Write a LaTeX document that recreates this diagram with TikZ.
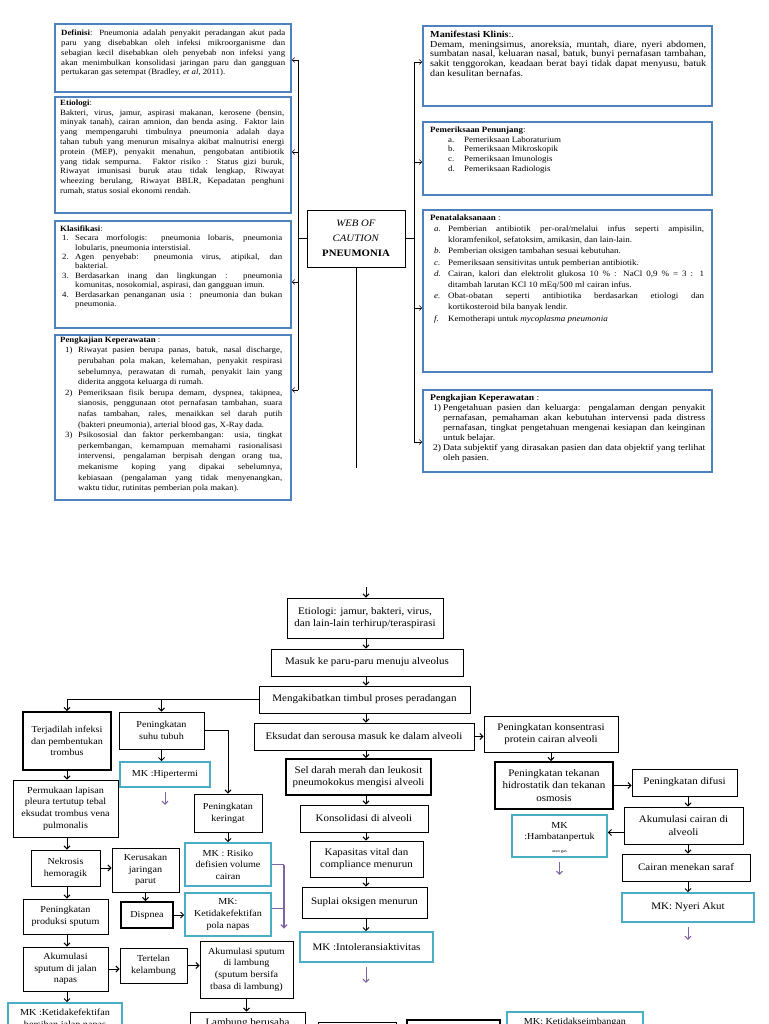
\documentclass[tikz,border=0pt]{standalone}
\usepackage{fontspec}
\setmainfont[FakeStretch=1.1]{Liberation Serif}
\usetikzlibrary{arrows.meta}
\definecolor{tbl}{RGB}{79,129,189}
\definecolor{cyn}{RGB}{75,172,198}
\definecolor{pur}{RGB}{128,100,162}
\newcommand\JL[2][0pt]{\hbox to\hsize{\hskip#1\relax#2}}
\newcommand\NL[2][0pt]{\hbox{\hskip#1\relax#2}}
\newcommand\bx[7]{\node[#2,minimum width={(#5-#3)*1pt},minimum height={(#6-#4)*1pt}] (#1) at ({(#3+#5)/2},{(#4+#6)/2}) {#7};}
\newcommand\fsA{\fontsize{10}{12.4}\selectfont}
\newcommand\fsB{\fontsize{9.2}{11.6}\selectfont}
\tikzset{
 fb/.style={draw=black, line width=0.9pt, align=center, inner sep=1pt},
 fbt/.style={fb, line width=1.8pt},
 mk/.style={draw=cyn, line width=1.6pt, align=center, inner sep=1pt},
 topbox/.style={draw=tbl, line width=1.6pt, inner sep=0pt},
 txt/.style={anchor=north west, inner sep=0pt},
 arr/.style={-{Straight Barb[length=3pt,width=6pt]}, line width=1pt},
 parr/.style={arr, draw=pur},
 warr/.style={-{Straight Barb[length=2.5pt,width=5pt]}, line width=0.6pt},
 wl/.style={line width=0.6pt},
 A/.style={font=\fsA}, B/.style={font=\fsB}
}
\begin{document}
\begin{tikzpicture}[x=1pt,y=-1pt]
\useasboundingbox (0,0) rectangle (768,1024);
\clip (0,0) rectangle (768,1024);
\fill[white] (0,0) rectangle (768,1024);

% ---------- top: web of caution ----------
\bx{def}{topbox}{55}{24}{291}{92}{}
\bx{eti}{topbox}{55}{97}{291}{213}{}
\bx{kla}{topbox}{55}{221}{291}{328}{}
\bx{pk}{topbox}{55}{335}{291}{500}{}
\bx{man}{topbox}{423}{26}{712}{106}{}
\bx{pen}{topbox}{423}{122}{712}{195}{}
\bx{pena}{topbox}{423}{210}{712}{372}{}
\bx{pkr}{topbox}{423}{390}{712}{472}{}

\node[txt] (deft) at (61,29.5) {\parbox{224pt}{\fontsize{8}{9.9}\selectfont
\JL{\textbf{Definisi}: Pneumonia adalah penyakit peradangan akut pada}
\JL{paru yang disebabkan oleh infeksi mikroorganisme dan}
\JL{sebagian kecil disebabkan oleh penyebab non infeksi yang}
\JL{akan menimbulkan konsolidasi jaringan paru dan gangguan}
\NL{pertukaran gas setempat (Bradley, \textit{et al}, 2011).}}};

\node[txt] (etit) at (60,99.5) {\parbox{224pt}{\fontsize{8}{9.8}\selectfont
\NL{\textbf{Etiologi}:}
\JL{Bakteri, virus, jamur, aspirasi makanan, kerosene (bensin,}
\JL{minyak tanah), cairan amnion, dan benda asing. Faktor lain}
\JL{yang mempengaruhi timbulnya pneumonia adalah daya}
\JL{tahan tubuh yang menurun misalnya akibat malnutrisi energi}
\JL{protein (MEP), penyakit menahun, pengobatan antibiotik}
\JL{yang tidak sempurna. Faktor risiko : Status gizi buruk,}
\JL{Riwayat imunisasi buruk atau tidak lengkap, Riwayat}
\JL{wheezing berulang, Riwayat BBLR, Kepadatan penghuni}
\NL{rumah, status sosial ekonomi rendah.}}};

\node[txt] (klat) at (60,225.5) {\parbox{222pt}{\fontsize{8}{9.4}\selectfont
\NL{\textbf{Klasifikasi}:}
\JL[2pt]{\makebox[13pt][l]{1.}Secara morfologis: pneumonia lobaris, pneumonia}
\NL[15pt]{lobularis, pneumonia interstisial.}
\JL[2pt]{\makebox[13pt][l]{2.}Agen penyebab: pneumonia virus, atipikal, dan}
\NL[15pt]{bakterial.}
\JL[2pt]{\makebox[13pt][l]{3.}Berdasarkan inang dan lingkungan : pneumonia}
\NL[15pt]{komunitas, nosokomial, aspirasi, dan gangguan imun.}
\JL[2pt]{\makebox[13pt][l]{4.}Berdasarkan penanganan usia : pneumonia dan bukan}
\NL[15pt]{pneumonia.}}};

\node[txt] (pkt) at (60,336.5) {\parbox{222pt}{\fontsize{8}{10.6}\selectfont
\NL{\textbf{Pengkajian Keperawatan} :}
\JL[5pt]{\makebox[13pt][l]{1)}Riwayat pasien berupa panas, batuk, nasal discharge,}
\JL[18pt]{perubahan pola makan, kelemahan, penyakit respirasi}
\JL[18pt]{sebelumnya, perawatan di rumah, penyakit lain yang}
\NL[18pt]{diderita anggota keluarga di rumah.}
\JL[5pt]{\makebox[13pt][l]{2)}Pemeriksaan fisik berupa demam, dyspnea, takipnea,}
\JL[18pt]{sianosis, penggunaan otot pernafasan tambahan, suara}
\JL[18pt]{nafas tambahan, rales, menaikkan sel darah putih}
\NL[18pt]{(bakteri pneumonia), arterial blood gas, X-Ray dada.}
\JL[5pt]{\makebox[13pt][l]{3)}Psikososial dan faktor perkembangan: usia, tingkat}
\JL[18pt]{perkembangan, kemampuan memahami rasionalisasi}
\JL[18pt]{intervensi, pengalaman berpisah dengan orang tua,}
\JL[18pt]{mekanisme koping yang dipakai sebelumnya,}
\JL[18pt]{kebiasaan (pengalaman yang tidak menyenangkan,}
\NL[18pt]{waktu tidur, rutinitas pemberian pola makan).}}};

\node[txt] (mant) at (430,31) {\parbox{276pt}{\fontsize{9.2}{9.6}\selectfont
\NL{\textbf{Manifestasi Klinis}:.}
\JL{Demam, meningsimus, anoreksia, muntah, diare, nyeri abdomen,}
\JL{sumbatan nasal, keluaran nasal, batuk, bunyi pernafasan tambahan,}
\JL{sakit tenggorokan, keadaan berat bayi tidak dapat menyusu, batuk}
\NL{dan kesulitan bernafas.}}};

\node[txt] (pent) at (430,126.5) {\parbox{276pt}{\fontsize{8.1}{9.8}\selectfont
\NL{\textbf{Pemeriksaan Penunjang}:}
\NL[18pt]{\makebox[16pt][l]{a.}Pemeriksaan Laboraturium}
\NL[18pt]{\makebox[16pt][l]{b.}Pemeriksaan Mikroskopik}
\NL[18pt]{\makebox[16pt][l]{c.}Pemeriksaan Imunologis}
\NL[18pt]{\makebox[16pt][l]{d.}Pemeriksaan Radiologis}}};

\node[txt] (penat) at (430,214.5) {\parbox{274pt}{\fontsize{8.2}{11.2}\selectfont
\NL{\textbf{Penatalaksanaan} :}
\JL[4pt]{\makebox[14pt][l]{\textit{a.}}Pemberian antibiotik per-oral/melalui infus seperti ampisilin,}
\NL[18pt]{kloramfenikol, sefatoksim, amikasin, dan lain-lain.}
\NL[4pt]{\makebox[14pt][l]{\textit{b.}}Pemberian oksigen tambahan sesuai kebutuhan.}
\NL[4pt]{\makebox[14pt][l]{\textit{c.}}Pemeriksaan sensitivitas untuk pemberian antibiotik.}
\JL[4pt]{\makebox[14pt][l]{\textit{d.}}Cairan, kalori dan elektrolit glukosa 10 \% : NaCl 0,9 \% = 3 : 1}
\NL[18pt]{ditambah larutan KCl 10 mEq/500 ml cairan infus.}
\JL[4pt]{\makebox[14pt][l]{\textit{e.}}Obat-obatan seperti antibiotika berdasarkan etiologi dan}
\NL[18pt]{kortikosteroid bila banyak lendir.}
\NL[4pt]{\makebox[14pt][l]{\textit{f.}}Kemotherapi untuk \textit{mycoplasma pneumonia}}}};

\node[txt] (pkrt) at (430,394) {\parbox{275pt}{\fontsize{8.7}{10}\selectfont
\NL{\textbf{Pengkajian Keperawatan} :}
\JL[3pt]{\makebox[10pt][l]{1)}Pengetahuan pasien dan keluarga: pengalaman dengan penyakit}
\JL[13pt]{pernafasan, pemahaman akan kebutuhan intervensi pada distress}
\JL[13pt]{pernafasan, tingkat pengetahuan mengenai kesiapan dan keinginan}
\NL[13pt]{untuk belajar.}
\JL[3pt]{\makebox[10pt][l]{2)}Data subjektif yang dirasakan pasien dan data objektif yang terlihat}
\NL[13pt]{oleh pasien.}}};

\bx{web}{fb, line width=0.6pt, font=\fontsize{9.8}{15}\selectfont}{307}{210}{405}{267}{\textit{WEB OF}\\\textit{CAUTION}\\\textbf{PNEUMONIA}}

\coordinate (la1) at (298,60);
\coordinate (la2) at (298,152);
\coordinate (la3) at (298,282);
\coordinate (la4) at (298,390);
\coordinate (ra1) at (414,62);
\coordinate (ra2) at (414,162);
\coordinate (ra3) at (414,308);
\coordinate (ra4) at (414,442);
\coordinate (cdown) at (356,468);
\draw[wl] (la1) -- (la4);
\draw[wl] (ra1) -- (ra4);
\draw[wl] (web.west) -- (web.west -| la1);
\draw[wl] (web.east) -- (web.east -| ra1);
\draw[wl] (web.south) -- (web.south |- cdown);
\draw[warr] (la1) -- (la1 -| def.east);
\draw[warr] (la2) -- (la2 -| eti.east);
\draw[warr] (la3) -- (la3 -| kla.east);
\draw[warr] (la4) -- (la4 -| pk.east);
\draw[warr] (ra1) -- (ra1 -| man.west);
\draw[warr] (ra2) -- (ra2 -| pen.west);
\draw[warr] (ra3) -- (ra3 -| pena.west);
\draw[warr] (ra4) -- (ra4 -| pkr.west);

% ---------- bottom: flow chart ----------
\bx{etio}{fb,A}{287}{598}{443}{638}{Etiologi: jamur, bakteri, virus,\\dan lain-lain terhirup/teraspirasi}
\bx{masuk}{fb,A}{271}{649}{463}{676}{Masuk ke paru-paru menuju alveolus}
\bx{meng}{fb,A}{259}{686}{470}{713}{Mengakibatkan timbul proses peradangan}
\bx{eksu}{fb,A}{254}{723}{474}{750}{Eksudat dan serousa masuk ke dalam alveoli}
\bx{sel}{fbt,A}{286}{759}{431}{795}{Sel darah merah dan leukosit\\pneumokokus mengisi alveoli}
\bx{kons}{fb,A}{300}{805}{428}{832}{Konsolidasi di alveoli}
\bx{kapa}{fb,A}{310}{841}{423}{877}{Kapasitas vital dan\\compliance menurun}
\bx{supl}{fb,A}{302}{887}{427}{918}{Suplai oksigen menurun}
\bx{mkint}{mk,A}{300}{932}{433}{962}{MK :Intoleransiaktivitas}

\bx{konsen}{fb,A}{484}{716}{618}{752}{Peningkatan konsentrasi\\protein cairan alveoli}
\bx{tekan}{fbt,A}{495}{762}{613}{809}{Peningkatan tekanan\\hidrostatik dan tekanan\\osmosis}
\bx{difu}{fb,A}{632}{769}{737}{796}{Peningkatan difusi}
\bx{akcair}{fb,A}{624}{807}{743}{844}{Akumulasi cairan di\\alveoli}
\bx{mkhamb}{mk}{512}{815}{607}{857}{}
\node[B, align=center, inner sep=0pt] (hambt) at (559.5,832) {MK\\:Hambatanpertuk};
\node[font=\fontsize{4}{4}\selectfont, inner sep=0pt] (hambt2) at (559.5,852) {aran gas};
\bx{cairan}{fb,A}{622}{854}{750}{881}{Cairan menekan saraf}
\bx{mknyeri}{mk,A}{622}{893}{754}{922}{MK: Nyeri Akut}

\bx{terj}{fbt,B}{23}{712}{111}{770}{Terjadilah infeksi\\dan pembentukan\\trombus}
\bx{suhu}{fb,B}{119}{712}{204}{749}{Peningkatan\\suhu tubuh}
\bx{mkhip}{mk,B}{120}{762}{210}{787}{MK :Hipertermi}
\bx{kering}{fb,B}{194}{794}{262}{832}{Peningkatan\\keringat}
\bx{mkris}{mk,B}{185}{843}{271}{886}{MK : Risiko\\defisien volume\\cairan}
\bx{mkpola}{mk,B}{185}{893}{271}{936}{MK:\\Ketidakefektifan\\pola napas}
\bx{perm}{fb,B}{13}{780}{118}{837}{Permukaan lapisan\\pleura tertutup tebal\\eksudat trombus vena\\pulmonalis}
\bx{nekr}{fb,B}{31}{850}{100}{886}{Nekrosis\\hemoragik}
\bx{keru}{fb,B}{112}{848}{179}{892}{Kerusakan\\jaringan\\parut}
\bx{disp}{fbt,B}{121}{902}{173}{928}{Dispnea}
\bx{prod}{fb,B}{23}{899}{108}{934}{Peningkatan\\produksi sputum}
\bx{akjal}{fb,B}{23}{947}{108}{991}{Akumulasi\\sputum di jalan\\napas}
\bx{tert}{fb,B}{120}{948}{187}{983}{Tertelan\\kelambung}
\bx{aklamb}{fb,B}{200}{941}{293}{998}{Akumulasi sputum\\di lambung\\(sputum bersifa\\tbasa di lambung)}

\bx{lamb}{fb}{190}{1012}{305}{1050}{}
\node[A, inner sep=0pt] (lambt) at (247.5,1023) {Lambung berusaha};
\bx{boxsix}{fb}{318}{1022}{396}{1050}{}
\bx{boxsev}{fbt}{407}{1020}{500}{1050}{}
\bx{mkseim}{mk}{507}{1012}{643}{1050}{}
\node[B, inner sep=0pt] (seimt) at (575,1022) {MK: Ketidakseimbangan};
\bx{mkbers}{mk}{8}{1003}{122}{1050}{}
\node[B, align=center, inner sep=0pt] (berst) at (65,1019) {MK :Ketidakefektifan\\bersihan jalan napas};

% connectors
\coordinate (topin) at (366,587);
\coordinate (cx) at (366,0);
\coordinate (lx) at (67,0);
\coordinate (rx) at (688,0);
\coordinate (pbx) at (284,0);
\draw[arr] (topin) -- (cx |- etio.north);
\draw[arr] (cx |- etio.south) -- (cx |- masuk.north);
\draw[arr] (cx |- masuk.south) -- (cx |- meng.north);
\draw[arr] (cx |- meng.south) -- (cx |- eksu.north);
\draw[arr] (cx |- eksu.south) -- (cx |- sel.north);
\draw[arr] (cx |- sel.south) -- (cx |- kons.north);
\draw[arr] (cx |- kons.south) -- (cx |- kapa.north);
\draw[arr] (cx |- kapa.south) -- (cx |- supl.north);
\draw[arr] (cx |- supl.south) -- (cx |- mkint.north);
\draw[parr] ([yshift=-4pt]cx |- mkint.south) -- ++(0,16);

\coordinate (j1) at (terj.north |- meng.west);
\coordinate (j2) at (suhu.north |- meng.west);
\draw[line width=1pt] (meng.west) -- (j1);
\draw[arr] (j1) -- (terj.north);
\draw[arr] (j2) -- (suhu.north);

\draw[arr] (suhu.east) -| (kering.north);
\draw[arr] (suhu.south) -- (suhu.south |- mkhip.north);
\draw[parr] ([yshift=-4pt]mkhip.south) -- ++(0,13);
\draw[arr] (kering.south) -- (kering.south |- mkris.north);
\draw[pur, line width=1.2pt] (mkris.east) -- (mkris.east -| pbx);
\draw[pur, line width=1.2pt] ([yshift=6pt]mkpola.east) -- ([yshift=6pt]mkpola.east -| pbx);
\draw[parr, line width=1.2pt] (pbx |- mkris.east) -- ++(0,64);

\draw[arr] (lx |- terj.south) -- (lx |- perm.north);
\draw[arr] (lx |- perm.south) -- (lx |- nekr.north);
\draw[arr] (lx |- nekr.south) -- (lx |- prod.north);
\draw[arr] (lx |- prod.south) -- (lx |- akjal.north);
\draw[arr] (lx |- akjal.south) -- (lx |- mkbers.north);
\draw[arr] (nekr.east) -- (nekr.east -| keru.west);
\draw[arr] (keru.south) -- (keru.south |- disp.north);
\draw[arr] (disp.east) -- (disp.east -| mkpola.west);
\draw[arr] (akjal.east) -- (akjal.east -| tert.west);
\draw[arr] (tert.east) -- (tert.east -| aklamb.west);
\draw[arr] (aklamb.south) -- (aklamb.south |- lamb.north);

\draw[arr] (eksu.east) -- (eksu.east -| konsen.west);
\draw[arr] (konsen.south) -- (konsen.south |- tekan.north);
\draw[arr] (tekan.east) -- (tekan.east -| difu.west);
\draw[arr] (rx |- difu.south) -- (rx |- akcair.north);
\draw[arr] ([yshift=-7pt]akcair.west) -- ([yshift=-7pt]akcair.west -| mkhamb.east);
\draw[parr] ([yshift=-4pt]mkhamb.south) -- ++(0,13);
\draw[arr] (rx |- akcair.south) -- (rx |- cairan.north);
\draw[arr] (rx |- cairan.south) -- (rx |- mknyeri.north);
\draw[parr] ([yshift=-4pt]rx |- mknyeri.south) -- ++(0,13);
\end{tikzpicture}
\end{document}
